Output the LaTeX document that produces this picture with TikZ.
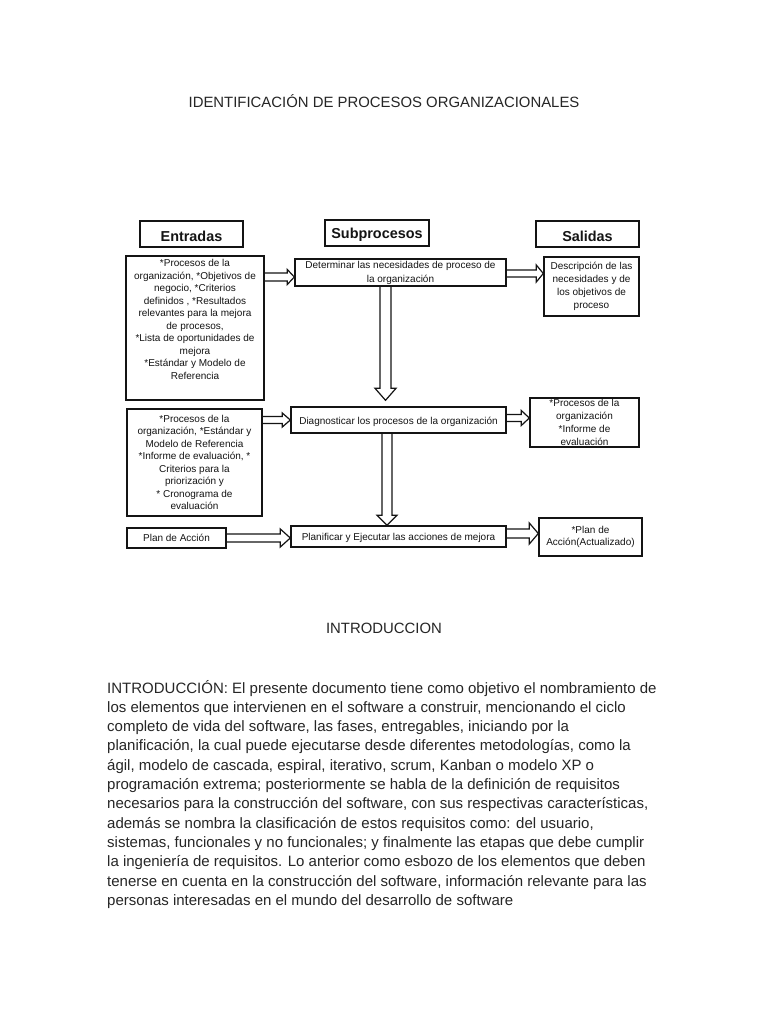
\documentclass[tikz,border=0pt]{standalone}
\usepackage{fontspec}
\setmainfont{Liberation Sans}
\usetikzlibrary{calc}
\definecolor{txt}{RGB}{38,38,38}
\definecolor{ink}{RGB}{20,20,20}
% horizontal block arrow: start, target, shaft half width, head half width, head length
\newcommand\myharrow[5]{%
  \draw[blockarrow] let \p1=(#1), \p2=(#2) in
    (\x1,\y1+#3) -- (\x2-#5,\y2+#3) -- (\x2-#5,\y2+#4) -- (\x2,\y2)
    -- (\x2-#5,\y2-#4) -- (\x2-#5,\y2-#3) -- (\x1,\y1-#3);}
% vertical (downward) block arrow
\newcommand\myvarrow[5]{%
  \draw[blockarrow] let \p1=(#1), \p2=(#2) in
    (\x1-#3,\y1) -- (\x2-#3,\y2+#5) -- (\x2-#4,\y2+#5) -- (\x2,\y2)
    -- (\x2+#4,\y2+#5) -- (\x2+#3,\y2+#5) -- (\x1+#3,\y1);}
\begin{document}
\begin{tikzpicture}[x=1pt,y=-1pt,
  box/.style={draw=ink, line width=1.4pt, fill=white, inner sep=0pt, align=center,
    text=ink, font=\fontsize{10}{12.5}\selectfont},
  oneline/.style={text height=8pt, text depth=0pt},
  headbox/.style={draw=ink, line width=1.7pt, fill=white, inner sep=0pt,
    text=ink, font=\bfseries\fontsize{14.4}{16}\selectfont, text height=14pt, text depth=0pt},
  blockarrow/.style={draw=ink, line width=1.2pt, line join=miter},
  heading/.style={text=txt, inner sep=0pt, anchor=base, font=\fontsize{14.9}{18}\selectfont},
  para/.style={text=txt, inner sep=0pt, anchor=base west, font=\fontsize{15}{19.3}\selectfont}
]
\fill[white] (0,0) rectangle (768,1024);
\useasboundingbox (0,0) rectangle (768,1024);

\node[heading] (title) at (384,108) {IDENTIFICACIÓN DE PROCESOS ORGANIZACIONALES};

% column headers
\node[headbox, minimum width=103pt, minimum height=26pt] (hE) at (191.5,234) {Entradas};
\node[headbox, minimum width=104pt, minimum height=26pt, text height=12pt] (hS) at (377,233) {Subprocesos};
\node[headbox, minimum width=103pt, minimum height=26pt] (hO) at (587.5,234) {Salidas};

% row 1
\node[box, minimum width=138pt, minimum height=144pt] (in1) at (195,328)
  {*Procesos de la\\organización, *Objetivos de\\negocio, *Criterios\\definidos , *Resultados\\relevantes para la mejora\\de procesos,\\*Lista de oportunidades de\\mejora\\*Estándar y Modelo de\\Referencia\\[4.5pt]\mbox{}};
\node[box, minimum width=211pt, minimum height=27pt, font=\fontsize{10}{14}\selectfont] (s1) at (400.5,272.5)
  {\rule{0pt}{9pt}Determinar las necesidades de proceso de\\la organización};
\node[box, minimum width=95pt, minimum height=59pt, font=\fontsize{10}{12.9}\selectfont] (o1) at (591.5,286.5)
  {Descripción de las\\necesidades y de\\los objetivos de\\proceso};

% row 2
\node[box, minimum width=135pt, minimum height=107pt] (in2) at (194.5,462.5)
  {*Procesos de la\\organización, *Estándar y\\Modelo de Referencia\\*Informe de evaluación, *\\Criterios para la\\priorización y\\* Cronograma de\\evaluación};
\node[box, oneline, minimum width=215pt, minimum height=26pt] (s2) at (398.5,420)
  {Diagnosticar los procesos de la organización};
\node[box, minimum width=109pt, minimum height=49pt, font=\fontsize{10}{13}\selectfont] (o2) at (584.5,422.5)
  {*Procesos de la\\organización\\*Informe de\\evaluación};

% row 3
\node[box, oneline, minimum width=99pt, minimum height=20pt, text height=6pt] (in3) at (176.5,538) {Plan de Acción};
\node[box, oneline, minimum width=215pt, minimum height=21pt] (s3) at (398.5,536.5)
  {Planificar y Ejecutar las acciones de mejora};
\node[box, minimum width=103pt, minimum height=38pt] (o3) at (590.5,537)
  {*Plan de\\Acción(Actualizado)};

% block arrows
\myharrow{$(in1.east |- s1.west)+(0,4.5)$}{$(s1.west)+(0,4.5)$}{4pt}{7.5pt}{7pt}
\myharrow{$(s1.east)+(0,1)$}{$(o1.west |- s1.east)+(0,1)$}{3.5pt}{8.5pt}{7pt}
\myharrow{in2.east |- s2.west}{s2.west}{3.5pt}{7pt}{8pt}
\myharrow{$(s2.east)+(0,-2)$}{$(o2.west |- s2.east)+(0,-2)$}{3.5pt}{7.5pt}{8pt}
\myharrow{in3.east}{s3.west |- in3.east}{4pt}{9pt}{10pt}
\myharrow{$(s3.east)+(0,-3)$}{$(o3.west |- s3.east)+(0,-3)$}{4.5pt}{10.5pt}{9pt}
\myvarrow{$(s1.south)+(-15,0)$}{$(s2.north)+(-13,-6)$}{5.5pt}{10.5pt}{12pt}
\myvarrow{$(s2.south)+(-11.5,0)$}{$(s3.north)+(-11.5,0)$}{5pt}{10pt}{10pt}

\node[heading] (intro) at (384,633) {INTRODUCCION};

\node[para] (p1) at (107,693) {INTRODUCCIÓN: El presente documento tiene como objetivo el nombramiento de};
\node[para] (p2) at (107,712.3) {los elementos que intervienen en el software a construir, mencionando el ciclo};
\node[para] (p3) at (107,731.6) {completo de vida del software, las fases, entregables, iniciando por la};
\node[para] (p4) at (107,750.9) {planificación, la cual puede ejecutarse desde diferentes metodologías, como la};
\node[para] (p5) at (107,770.2) {ágil, modelo de cascada, espiral, iterativo, scrum, Kanban o modelo XP o};
\node[para] (p6) at (107,789.5) {programación extrema; posteriormente se habla de la definición de requisitos};
\node[para] (p7) at (107,808.8) {necesarios para la construcción del software, con sus respectivas características,};
\node[para] (p8) at (107,828.1) {además se nombra la clasificación de estos requisitos como: del usuario,};
\node[para] (p9) at (107,847.4) {sistemas, funcionales y no funcionales; y finalmente las etapas que debe cumplir};
\node[para] (p10) at (107,866.7) {la ingeniería de requisitos. Lo anterior como esbozo de los elementos que deben};
\node[para] (p11) at (107,886) {tenerse en cuenta en la construcción del software, información relevante para las};
\node[para] (p12) at (107,905.3) {personas interesadas en el mundo del desarrollo de software};
\end{tikzpicture}
\end{document}
